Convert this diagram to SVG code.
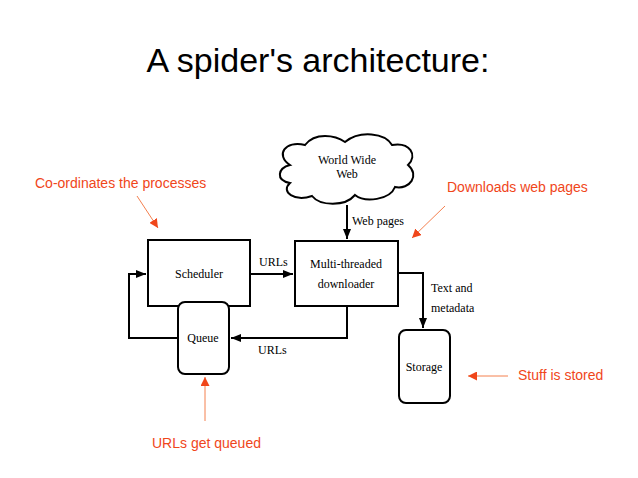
<svg xmlns="http://www.w3.org/2000/svg" width="638" height="478" viewBox="0 0 638 478">
<defs>
<style>
.b{fill:#fff;stroke:#000;stroke-width:2}
.t{font-family:"Liberation Serif",serif;font-size:12px;fill:#000}
.c{stroke:#000;stroke-width:2;fill:none}
.o{stroke:#f4804f;stroke-width:1;fill:none}
.ot{font-family:"Liberation Sans",sans-serif;font-size:14px;fill:#f0461a}
</style>
<marker id="a" viewBox="0 0 10 10" refX="10" refY="5" markerWidth="5" markerHeight="5" orient="auto"><path d="M0,1 L10,5 L0,9 Z" fill="#000"/></marker>
<marker id="oa" viewBox="0 0 10 10" refX="10" refY="5" markerWidth="9" markerHeight="9" orient="auto" markerUnits="userSpaceOnUse"><path d="M0,0 L10,5 L0,10 Z" fill="#f0461a"/></marker>
</defs>
<rect width="638" height="478" fill="#fff"/>
<text x="318" y="72" text-anchor="middle" font-family="Liberation Sans,sans-serif" font-size="34">A spider's architecture:</text>
<g id="connectors">
<path class="c" d="M347,205 V239" marker-end="url(#a)"/>
<path class="c" d="M250,274 H293" marker-end="url(#a)"/>
<path class="c" d="M347,306 V338 H231" marker-end="url(#a)"/>
<path class="c" d="M178,338 H129 V274 H146" marker-end="url(#a)"/>
<path class="c" d="M398,273 H423 V328" marker-end="url(#a)"/>
<text class="t" x="352" y="225">Web pages</text>
<text class="t" x="259" y="266">URLs</text>
<text class="t" x="258" y="354">URLs</text>
<text class="t" x="431" y="292">Text and</text>
<text class="t" x="431" y="312">metadata</text>
</g>
<g id="cloud">
<path class="b" d="M290,165 C275,155 285,140 305,145 C315,132 335,135 345,142 C360,130 385,133 392,145 C410,142 418,155 408,165 C420,175 410,190 395,187 C390,200 365,203 355,195 C345,207 320,206 312,196 C295,202 280,192 290,183 C275,180 278,168 290,165 Z"/>
<text class="t" x="347" y="164" text-anchor="middle">World Wide</text>
<text class="t" x="347" y="178" text-anchor="middle">Web</text>
</g>
<g id="scheduler"><rect class="b" x="148" y="240" width="102" height="66"/><text class="t" x="199" y="278" text-anchor="middle">Scheduler</text></g>
<g id="queue"><rect class="b" x="178" y="302" width="51" height="72" rx="7"/><text class="t" x="203" y="342" text-anchor="middle">Queue</text></g>
<g id="downloader"><rect class="b" x="295" y="241" width="103" height="65"/><text class="t" x="346" y="268" text-anchor="middle">Multi-threaded</text><text class="t" x="346" y="288" text-anchor="middle">downloader</text></g>
<g id="storage"><rect class="b" x="399" y="330" width="51" height="73" rx="7"/><text class="t" x="424" y="371" text-anchor="middle">Storage</text></g>
<g id="annotations">
<text class="ot" x="35" y="188">Co-ordinates the processes</text>
<path class="o" d="M137,196 L158,228" marker-end="url(#oa)"/>
<text class="ot" x="447" y="192">Downloads web pages</text>
<path class="o" d="M445,206 L412,238" marker-end="url(#oa)"/>
<text class="ot" x="518" y="380">Stuff is stored</text>
<path class="o" d="M508,376 L468,376" marker-end="url(#oa)"/>
<text class="ot" x="152" y="448">URLs get queued</text>
<path class="o" d="M205,421 L205,377" marker-end="url(#oa)"/>
</g>
</svg>
